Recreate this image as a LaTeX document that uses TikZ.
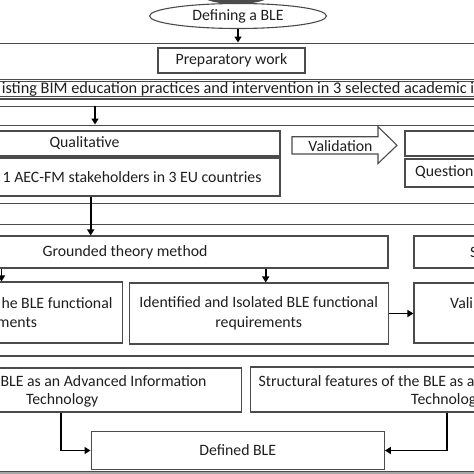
\documentclass[tikz,border=0pt]{standalone}
\usepackage{fontspec}
\setmainfont{Carlito}
\usetikzlibrary{arrows.meta,shapes.geometric}
\definecolor{lnG}{RGB}{75,75,75}
\definecolor{txG}{RGB}{30,30,30}
\newcommand{\FS}{\fontsize{15.8}{20}\selectfont}

\begin{document}
\begin{tikzpicture}[
    x=1pt, y=-1pt,
    box/.style={draw=lnG, line width=1.1pt, rectangle, inner sep=0pt,
      text=txG, font=\FS, align=center},
    band/.style={draw=lnG, line width=1pt, rectangle, inner sep=0pt},
    flow/.style={draw=black, line width=1.8pt, -{Triangle[length=6pt,width=7pt]}},
    tag/.style={text=txG, font=\FS, inner sep=0pt},
  ]
  \useasboundingbox (0,0) rectangle (474,474);
  \clip (0,0) rectangle (474,474);

  %% ================= phase bands (they run past both edges) =================
  \fill[black!70] (236,-6) ellipse [x radius=36, y radius=10];
  \fill[black!35] (0,471) rectangle (474,474);
  \node[band, minimum width=520pt, minimum height=56pt]  (ph1)   at (237,71)    {};
  \node[band, minimum width=520pt, minimum height=97pt]  (ph2)   at (237,154.5) {};
  \node[band, minimum width=520pt, minimum height=78pt]  (ph2in) at (237,164)   {};
  \node[band, minimum width=520pt, minimum height=131pt] (ph3)   at (237,289.5) {};
  \node[band, minimum width=520pt, minimum height=115pt] (ph4)   at (237,413.5) {};

  %% ---- start ----
  \node[box, ellipse, minimum width=177pt, minimum height=25pt] (define) at (238,16) {Defining a BLE};
  \node[box, minimum width=147pt, minimum height=25pt] (prep) at (231.5,60.5) {Preparatory work};
  \node[band, double, double distance=1.2pt, minimum width=520pt, minimum height=17pt,
    text=txG, font=\fontsize{16.3}{20}\selectfont] (survey) at (238,89)
    {isting BIM education practices and intervention in 3 selected academic i};

  %% ---- qualitative / validation ----
  \node[box, minimum width=391pt, minimum height=25pt] (qual)  at (84.5,143.5) {Qualitative};
  \node[box, minimum width=391pt, minimum height=38pt] (stake) at (84.5,177)   {};
  \node[tag, anchor=east] (staketxt) at (261.7,176.7) {1 AEC-FM stakeholders in 3 EU countries};
  \draw[lnG, line width=1.1pt, fill=white] (292,136.7) -- (378,136.7) -- (378,126.7)
    -- (397,145.3) -- (378,163.5) -- (378,154) -- (292,154) -- cycle;
  \node[tag] (valid) at (340.5,145.7) {Validation};
  \node[box, minimum width=160pt, minimum height=25pt] (quant) at (485,143.5) {};
  \node[box, minimum width=160pt, minimum height=28pt] (quest) at (485,173)   {};
  \node[tag, anchor=west] (questtxt) at (415,172.3) {Question};

  %% ---- grounded theory ----
  \node[box, minimum width=526pt, minimum height=32pt] (ground) at (125,252) {Grounded theory method};
  \node[box, minimum width=160pt, minimum height=32pt] (survR)  at (494,252) {};
  \node[tag, anchor=west] (survRtxt) at (470,252) {S};
  \node[box, minimum width=320pt, minimum height=61pt] (reqleft) at (-37.3,312.5) {};
  \node[tag, anchor=east] (reqlefta) at (112.7,302.7) {he BLE functional};
  \node[tag, anchor=east] (reqleftb) at (37.3,322.7)  {ments};
  \node[box, minimum width=259.3pt, minimum height=61pt] (reqmid) at (258.7,313.5)
    {Identified and Isolated BLE functional\\requirements};
  \node[box, minimum width=160pt, minimum height=60pt] (reqval) at (494,313) {};
  \node[tag, anchor=west] (reqvaltxt) at (450,302.7) {Vali};

  %% ---- features ----
  \node[box, minimum width=440pt, minimum height=44pt] (featL) at (21.7,390)    {};
  \node[tag, anchor=east] (featLa) at (206.7,380.7) {BLE as an Advanced Information};
  \node[tag] (featLb) at (62.2,400.7) {Technology};
  \node[box, minimum width=350pt, minimum height=45pt] (featR) at (425.7,389.5) {};
  \node[tag, anchor=west] (featRa) at (258.3,380.7) {Structural features of the BLE as an};
  \node[tag, anchor=west] (featRb) at (411,400.7)   {Technology};
  \node[box, minimum width=293.3pt, minimum height=37.6pt] (defined) at (237.7,450.5) {Defined BLE};

  %% ---- connectors ----
  \coordinate (ax) at (95,0);
  \coordinate (bx) at (90.7,0);
  \coordinate (cx) at (1.5,0);
  \coordinate (dx) at (265.7,0);
  \coordinate (lx) at (61,0);
  \coordinate (rx) at (447.3,0);
  \draw[flow] (define.south) -- (define.south |- ph1.north);
  \draw[flow] (ph2.north -| ax) -- (ph2in.north -| ax);
  \draw[flow] (stake.south -| bx) -- (ground.north -| bx);
  \draw[flow] (ground.south -| cx) -- (reqleft.north -| cx);
  \draw[flow] (ground.south -| dx) -- (reqmid.north -| dx);
  \draw[flow] (reqmid.east) -- (reqmid.east -| reqval.west);
  \draw[flow] (featL.south -| lx) |- (defined.west);
  \draw[flow] (featR.south -| rx) |- (defined.east);

\end{tikzpicture}
\end{document}
